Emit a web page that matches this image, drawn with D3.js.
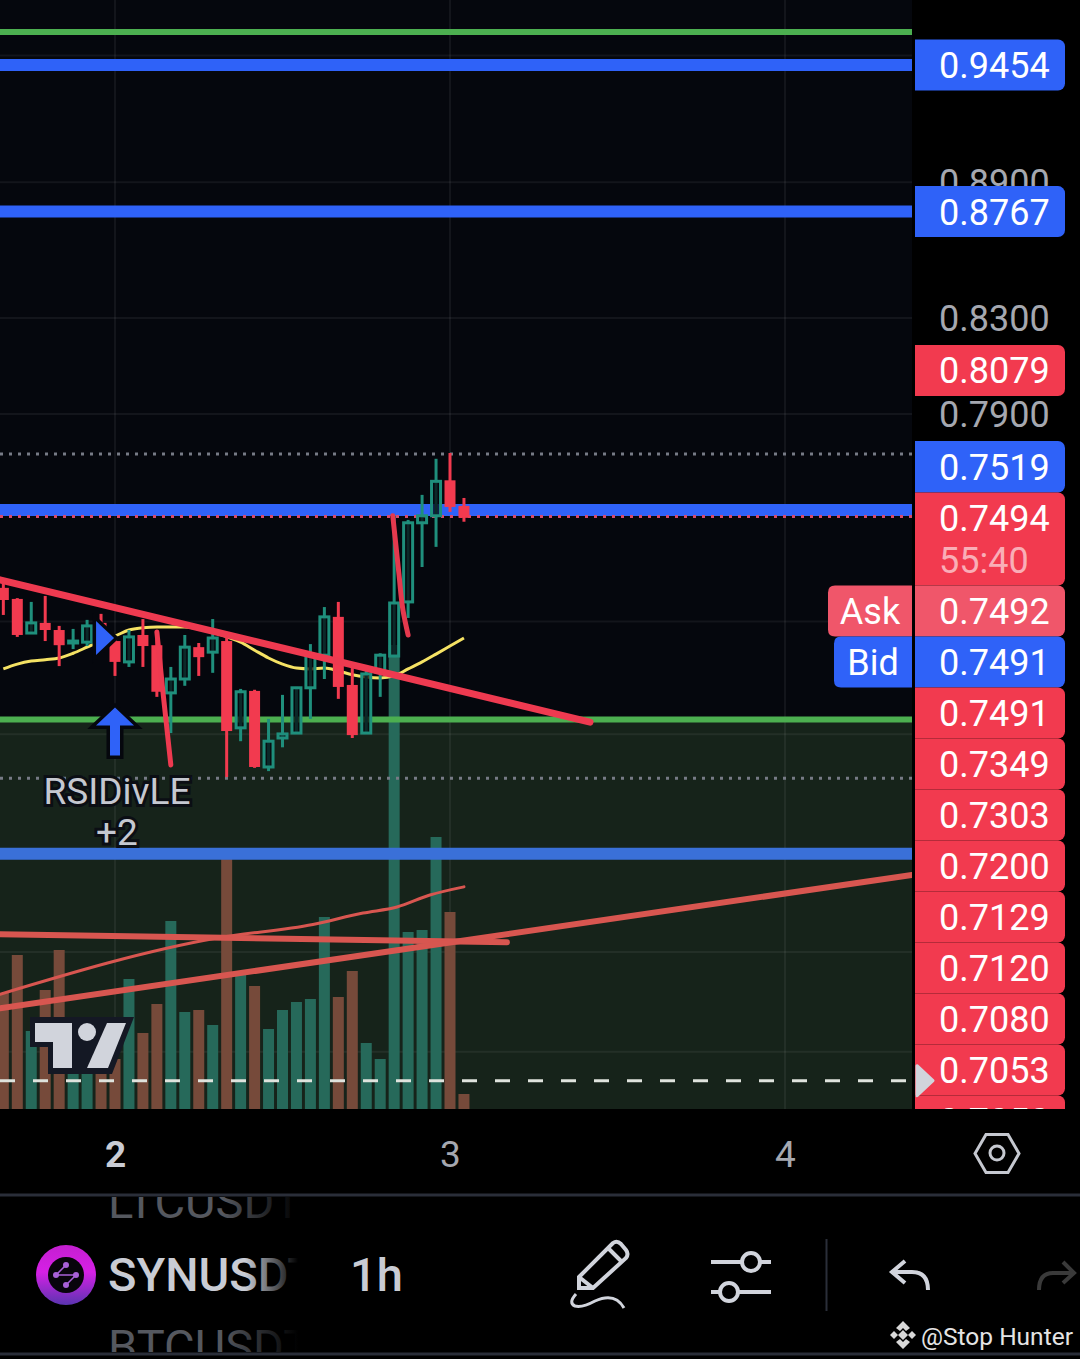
<!DOCTYPE html>
<html>
<head>
<meta charset="utf-8">
<script src="https://d3js.org/d3.v7.min.js"></script>
<style>
  html, body { margin: 0; padding: 0; background: #000; }
  svg { display: block; }
  text { font-family: Roboto, sans-serif; }
</style>
</head>
<body>
<div id="chart"></div>
<script>
// hourly bars, 0 = start of day 2
var bars = [-8,-7,-6,-5,-4,-3,-2,-1,0,1,2,3,4,5,6,7,8,9,10,11,12,13,14,15,16,17,18,19,20,21,22,23,24,25];
var opens = [.7224,.7183,.7058,.7095,.7069,.7022,.7025,.7095,.7029,.6954,.7051,.7014,.6844,.6893,.7007,.6989,.7029,.6722,.6851,.6588,.6687,.6704,.6862,.6978,.7117,.6872,.6704,.6918,.6975,.7172,.7470,.7497,.7635,.7535];
var highs = [.7243,.7186,.7172,.7194,.7084,.7073,.7106,.7128,.7044,.7069,.7109,.7062,.6936,.7051,.7022,.7109,.7047,.6858,.6855,.6753,.6837,.6865,.7018,.7153,.7172,.6932,.6925,.6985,.7497,.7481,.7578,.7720,.7743,.7566];
var lows = [.7124,.7044,.7055,.7029,.6939,.7000,.7011,.7033,.6904,.6936,.6936,.6830,.6704,.6869,.6904,.6915,.6554,.6676,.6585,.6574,.6655,.6701,.6753,.6893,.6823,.6687,.6701,.6830,.6971,.7113,.7302,.7378,.7512,.7474];
var closes = [.7179,.7051,.7095,.7069,.7014,.7029,.7084,.7055,.6954,.7044,.7011,.6848,.6893,.7007,.6971,.7040,.6711,.6848,.6588,.6676,.6701,.6862,.6978,.7117,.6865,.6697,.6911,.6978,.7168,.7470,.7497,.7631,.7531,.7489];
var volumes = [116,154,78,119,159,69,59,64,50,130,76,105,188,97,99,84,250,134,123,80,99,107,110,192,112,138,66,50,464,177,179,272,197,15];
var maValues = [.6929,.6946,.6957,.6962,.6968,.6985,.7007,.7029,.7047,.7069,.7077,.7080,.7080,.7080,.7073,.7062,.7044,.7025,.6996,.6968,.6946,.6932,.6929,.6932,.6922,.6908,.6900,.6897,.6904,.6929,.6954,.6982,.7011,.7040];

var gridPrices = [.95,.89,.83,.79,.75,.71,.67,.63,.599,.569];
var dayBars = [0,24,48];
var dayLabels = ["2","3","4"];
var greenLevels = [.9616,.6751];
var blueLevels = [.9454,.8767,.7519,.63];
var dottedLevels = [.7739,.6550];
var lastPrice = .7494;
var dashedLevel = .5606;

// drawn trend lines, [bar, price]
var trendMain = [[-8.24,.7254],[34.03,.6742]];
var trendFlat = [[-8.24,.6045],[28.08,.6020]];
var trendRise = [[-8.24,.5819],[57.09,.6232]];
var volumeAvg = [[-8.24,.5861],[7.31,.6033],[14.18,.6075],[17.77,.6111],[20.2,.6130],[22.56,.6168],[25,.6194]];
var strokeOne = [[3,.7062],[3.45,.6840],[4,.6595]];
var strokeTwo = [[19.9,.7497],[20.35,.7272],[20.63,.7142],[21,.7051]];

var axisTicks = [.89,.83,.79];
var freeTags = [["0.9454","blue"],["0.8767","blue"],["0.8079","red"]];
var stackTags = ["0.7491","0.7349","0.7303","0.7200","0.7129","0.7120","0.7080","0.7053","0.7050"];

var BLUE = "#2f62f8", RED = "#f23a4f", GREEN = "#4caf50", TEAL = "#1f8f7c";
var W = 1080, H = 1359, paneR = 912, paneB = 1109;

var svg = d3.select("#chart").append("svg").attr("width", W).attr("height", H).style("background", "#000");
var defs = svg.append("defs");

var x = d3.scaleLinear().domain([0, 24]).range([115, 450]);
var y = d3.scaleLog().domain([.83, .79]).range([318, 414]);
var yVol = d3.scaleLinear().domain([0, 500]).range([paneB, paneB - 500]);

defs.append("clipPath").attr("id", "pane").append("rect").attr("width", paneR).attr("height", paneB);
defs.append("clipPath").attr("id", "scaleArea").append("rect").attr("x", 915).attr("width", 165).attr("height", paneB);

// ---- pane background
var pane = svg.append("g").attr("clip-path", "url(#pane)");
pane.append("rect").attr("width", paneR).attr("height", paneB).attr("fill", "#05070d");
pane.append("rect").attr("y", y(greenLevels[1])).attr("width", paneR).attr("height", paneB - y(greenLevels[1])).attr("fill", "#16231a");

// grid
pane.selectAll(".hgrid").data(gridPrices).enter().append("line")
  .attr("x1", 0).attr("x2", paneR).attr("y1", d => y(d)).attr("y2", d => y(d))
  .attr("stroke", "#fff").attr("stroke-opacity", .06).attr("stroke-width", 2);
pane.selectAll(".vgrid").data(dayBars).enter().append("line")
  .attr("x1", d => x(d)).attr("x2", d => x(d)).attr("y1", 0).attr("y2", paneB)
  .attr("stroke", "#fff").attr("stroke-opacity", .06).attr("stroke-width", 2);

// volume
pane.selectAll(".vol").data(bars).enter().append("rect")
  .attr("x", d => x(d) - 5.5).attr("width", 11)
  .attr("y", (d, i) => yVol(volumes[i])).attr("height", (d, i) => paneB - yVol(volumes[i]))
  .attr("fill", (d, i) => closes[i] >= opens[i] ? "#26695a" : "#764a3a");

// dotted levels under the candles
function dotted(level, color) {
  pane.append("line").attr("x1", 0).attr("x2", paneR).attr("y1", y(level)).attr("y2", y(level))
    .attr("stroke", color).attr("stroke-width", 3).attr("stroke-dasharray", "3 6");
}
dottedLevels.forEach(d => dotted(d, "#777b86"));

// level lines
pane.selectAll(".green").data(greenLevels).enter().append("line")
  .attr("x1", 0).attr("x2", paneR).attr("y1", d => y(d)).attr("y2", d => y(d))
  .attr("stroke", GREEN).attr("stroke-width", 6);
pane.selectAll(".blue").data(blueLevels).enter().append("line")
  .attr("x1", 0).attr("x2", paneR).attr("y1", d => y(d)).attr("y2", d => y(d))
  .attr("stroke", d => d < greenLevels[1] ? "#3a70d8" : BLUE).attr("stroke-width", 12);
dotted(lastPrice, "#d84a6c");
pane.append("line").attr("x1", 0).attr("x2", paneR).attr("y1", y(dashedLevel)).attr("y2", y(dashedLevel))
  .attr("stroke", "#dfe3dd").attr("stroke-width", 3).attr("stroke-dasharray", "15 18");

// drawn lines in the lower part
var line = d3.line().x(d => x(d[0])).y(d => y(d[1]));
function drawn(points, width, color, curve) {
  pane.append("path").attr("d", line.curve(curve || d3.curveLinear)(points))
    .attr("fill", "none").attr("stroke", color).attr("stroke-width", width).attr("stroke-linecap", "round");
}
drawn(trendFlat, 6, "#d85650");
drawn(volumeAvg, 3, "#d85650", d3.curveMonotoneX);
drawn(trendRise, 6, "#d85650");

// tradingview mark
var mark = pane.append("g");
mark.append("path").attr("d", "M30 1017H134L112 1074H48V1047H30Z").attr("fill", "#141824");
mark.append("path").attr("d", "M35 1023H72V1068H53V1042H35Z").attr("fill", "#d1d4dc");
mark.append("circle").attr("cx", 87).attr("cy", 1032).attr("r", 9).attr("fill", "#d1d4dc");
mark.append("path").attr("d", "M107 1023H126L108 1068H87Z").attr("fill", "#d1d4dc");

// moving average + main trend line
pane.append("path").attr("d", d3.line().x((d, i) => x(bars[i])).y(d => y(d)).curve(d3.curveMonotoneX)(maValues))
  .attr("fill", "none").attr("stroke", "#f5e264").attr("stroke-width", 3);

// candles
var candle = pane.selectAll(".candle").data(bars).enter().append("g");
candle.append("line")
  .attr("x1", d => x(d)).attr("x2", d => x(d))
  .attr("y1", (d, i) => y(highs[i])).attr("y2", (d, i) => y(lows[i]))
  .attr("stroke", (d, i) => closes[i] >= opens[i] ? TEAL : RED).attr("stroke-width", 3);
candle.append("rect")
  .attr("x", (d, i) => x(d) - (closes[i] >= opens[i] ? 4.5 : 5.5))
  .attr("width", (d, i) => closes[i] >= opens[i] ? 9 : 11)
  .attr("y", (d, i) => y(Math.max(opens[i], closes[i])))
  .attr("height", (d, i) => Math.abs(y(opens[i]) - y(closes[i])))
  .attr("fill", (d, i) => closes[i] >= opens[i] ? "#05070d" : RED)
  .attr("fill-opacity", (d, i) => closes[i] >= opens[i] ? .75 : 1)
  .attr("stroke", (d, i) => closes[i] >= opens[i] ? TEAL : "none").attr("stroke-width", 3);

drawn(trendMain, 7, "#ee3a50");
drawn(strokeOne, 5, "#ee3a50", d3.curveMonotoneY);
drawn(strokeTwo, 5, "#e5394e", d3.curveMonotoneY);

// signal markers
var sigX = x(0), sigY = y(.6751);
pane.append("path").attr("transform", `translate(${sigX},${sigY})`)
  .attr("d", "M0 -12L19 6H5V36H-5V6H-19Z")
  .attr("fill", BLUE).attr("stroke", "#05070d").attr("stroke-width", 7).attr("paint-order", "stroke");
pane.append("path").attr("transform", `translate(${x(-1)},${y(.7040)})`)
  .attr("d", "M-5 -17L13 0L-5 17Z")
  .attr("fill", BLUE).attr("stroke", "#05070d").attr("stroke-width", 7).attr("paint-order", "stroke");
pane.selectAll(".sigText").data(["RSIDivLE", "+2"]).enter().append("text")
  .attr("x", sigX + 2).attr("y", (d, i) => 804 + i * 41)
  .attr("text-anchor", "middle").attr("font-size", 37).attr("fill", "#c5c8d0")
  .attr("stroke", "#0b0e14").attr("stroke-width", 6).attr("paint-order", "stroke")
  .text(d => d);

// ---- price scale
var axisG = svg.append("g").attr("transform", "translate(939,1)")
  .call(d3.axisRight(y).tickValues(axisTicks).tickSize(0).tickPadding(0).tickFormat(d3.format(".4f")));
axisG.select(".domain").remove();
axisG.selectAll("text").attr("font-size", 36).attr("fill", "#a5a8b0").attr("font-family", "Roboto, sans-serif");

var tagG = svg.append("g").attr("clip-path", "url(#scaleArea)");
function tag(top, bottom, color) {
  tagG.append("rect").attr("x", 900).attr("y", top).attr("width", 165).attr("height", bottom - top)
    .attr("rx", 7).attr("fill", color);
}
function tagText(g, label, cy, fill, size) {
  g.append("text").attr("x", 939).attr("y", cy).attr("dy", ".36em")
    .attr("font-size", size || 36).attr("fill", fill || "#fff").text(label);
}
var colorOf = { blue: BLUE, red: RED };
freeTags.forEach(function (t) {
  var cy = y(+t[0]);
  tag(cy - 25.5, cy + 25.5, colorOf[t[1]]);
  tagText(tagG, t[0], cy);
});

var lastCy = y(lastPrice) + 1.5;
tag(lastCy - 77, lastCy - 25.5, BLUE);
tagText(tagG, blueLevels[2].toFixed(4), lastCy - 51);
tag(lastCy - 25.5, lastCy + 67.5, RED);
tagText(tagG, lastPrice.toFixed(4), lastCy);
tagText(tagG, "55:40", lastCy + 42, "rgba(255,255,255,.6)");
tag(lastCy + 67.5, lastCy + 118.5, "#f0566a");
tagText(tagG, "0.7492", lastCy + 93);
tag(lastCy + 118.5, lastCy + 169.5, BLUE);
tagText(tagG, "0.7491", lastCy + 144);
stackTags.forEach(function (d, i) {
  var cy = lastCy + 195 + i * 51;
  tag(cy - 25.5, cy + 25.5, RED);
  tagText(tagG, d, cy);
});

// ask / bid tabs
[["Ask", 828, "#f0566a", lastCy + 93], ["Bid", 834, BLUE, lastCy + 144]].forEach(function (t) {
  svg.append("path")
    .attr("d", `M912 ${t[3] - 25.5}H${t[1] + 7}Q${t[1]} ${t[3] - 25.5} ${t[1]} ${t[3] - 18.5}V${t[3] + 18.5}Q${t[1]} ${t[3] + 25.5} ${t[1] + 7} ${t[3] + 25.5}H912Z`)
    .attr("fill", t[2]);
  svg.append("text").attr("x", (t[1] + 912) / 2).attr("y", t[3]).attr("dy", ".36em")
    .attr("text-anchor", "middle").attr("font-size", 36).attr("fill", "#fff").text(t[0]);
});

// last-price pointer
svg.append("path").attr("transform", `translate(915,${y(dashedLevel)})`)
  .attr("d", "M2 -15L18 0L2 15Z").attr("fill", "#d1d4dc")
  .attr("stroke", "#d1d4dc").attr("stroke-width", 3).attr("stroke-linejoin", "round");

// ---- time axis
var timeAxis = d3.axisBottom(x).tickValues(dayBars).tickSize(0).tickPadding(0)
  .tickFormat((d, i) => dayLabels[i]);
var timeG = svg.append("g").attr("transform", "translate(0,1141)").call(timeAxis);
timeG.select(".domain").remove();
timeG.selectAll("text").attr("font-size", 37).attr("fill", "#a5a8b0").attr("font-family", "Roboto, sans-serif");
timeG.selectAll("text").filter(d => d === 0).attr("font-weight", 700).attr("fill", "#c9ccd4");

// settings hexagon
var hexR = 22;
svg.append("path").attr("d", d3.range(6).map(function (i) {
  var a = i * Math.PI / 3;
  return (i ? "L" : "M") + (997 + hexR * Math.cos(a)) + " " + (1153.5 + hexR * Math.sin(a));
}).join("") + "Z").attr("fill", "none").attr("stroke", "#c5c8d0").attr("stroke-width", 3);
svg.append("circle").attr("cx", 997).attr("cy", 1153).attr("r", 7)
  .attr("fill", "none").attr("stroke", "#c5c8d0").attr("stroke-width", 3);

// ---- bottom toolbar
svg.selectAll(".sep").data([1195, 1354]).enter().append("line")
  .attr("x1", 0).attr("x2", W).attr("y1", d => d).attr("y2", d => d)
  .attr("stroke", "#2a2e39").attr("stroke-width", 3);

var fade = defs.append("linearGradient").attr("id", "fade").attr("gradientUnits", "userSpaceOnUse")
  .attr("x1", 108).attr("x2", 298).attr("y1", 0).attr("y2", 0);
fade.append("stop").attr("offset", "72%").attr("stop-color", "#c9ccd4");
fade.append("stop").attr("offset", "100%").attr("stop-color", "#000");
var fadeDim = defs.append("linearGradient").attr("id", "fadeDim").attr("gradientUnits", "userSpaceOnUse")
  .attr("x1", 108).attr("x2", 298).attr("y1", 0).attr("y2", 0);
fadeDim.append("stop").attr("offset", "60%").attr("stop-color", "#55585f");
fadeDim.append("stop").attr("offset", "100%").attr("stop-color", "#000");
defs.append("clipPath").attr("id", "listClip").append("rect").attr("x", 100).attr("y", 1197).attr("width", 198).attr("height", 155);

var list = svg.append("g").attr("clip-path", "url(#listClip)");
list.append("text").attr("x", 108).attr("y", 1218).attr("font-size", 47).attr("fill", "url(#fadeDim)").text("LTCUSDT");
list.append("text").attr("x", 108).attr("y", 1291).attr("font-size", 47).attr("font-weight", 500).attr("fill", "url(#fade)").text("SYNUSDT");
list.append("text").attr("x", 108).attr("y", 1363).attr("font-size", 47).attr("fill", "url(#fadeDim)").text("BTCUSDT");
svg.append("text").attr("x", 350).attr("y", 1291).attr("font-size", 47).attr("font-weight", 500).attr("fill", "#c9ccd4").text("1h");

// coin logo
var ring = defs.append("linearGradient").attr("id", "ring").attr("x1", 0).attr("y1", 0).attr("x2", 0).attr("y2", 1);
ring.append("stop").attr("offset", "0%").attr("stop-color", "#c41fd0");
ring.append("stop").attr("offset", "45%").attr("stop-color", "#d620e6");
ring.append("stop").attr("offset", "100%").attr("stop-color", "#5a34b0");
svg.append("circle").attr("cx", 66).attr("cy", 1275).attr("r", 30).attr("fill", "url(#ring)");
svg.append("circle").attr("cx", 66).attr("cy", 1275).attr("r", 18).attr("fill", "#08040c");
var net = [[56, 1275], [66, 1265], [66, 1285], [76, 1275]];
svg.append("path").attr("d", "M56 1275L66 1265M56 1275H76M76 1275L66 1285")
  .attr("stroke", "#a860d8").attr("stroke-width", 1.5).attr("fill", "none");
svg.selectAll(".node").data(net).enter().append("circle")
  .attr("cx", d => d[0]).attr("cy", d => d[1]).attr("r", 3).attr("fill", "#a860d8");

// toolbar icons
var icons = svg.append("g").attr("fill", "none").attr("stroke", "#d1d4dc").attr("stroke-width", 4);
icons.append("path").attr("d", "M579 1277L613 1243Q617 1240 621 1244L626 1250Q629 1254 626 1258L593 1288H579Z");
icons.append("path").attr("d", "M608 1248L621 1261M579 1277L593 1288");
icons.append("path").attr("d", "M576 1294Q568 1303 575 1306Q582 1308 595 1301Q615 1292 624 1308").attr("stroke-width", 3);
icons.append("path").attr("d", "M711 1262H771M711 1292H771");
[[751, 1262], [729, 1292]].forEach(function (c) {
  icons.append("circle").attr("cx", c[0]).attr("cy", c[1]).attr("r", 9).attr("fill", "#000");
});
svg.append("line").attr("x1", 826.5).attr("x2", 826.5).attr("y1", 1239).attr("y2", 1311).attr("stroke", "#2a2e39").attr("stroke-width", 2);
icons.append("path").attr("d", "M905 1261L892 1272L905 1283M892 1272H912Q928 1272 928 1290");
icons.append("path").attr("d", "M1063 1262L1074 1273L1063 1283M1074 1273H1053Q1039 1273 1039 1290").attr("stroke", "#3a3a3a");

// watermark
var wm = svg.append("g").attr("fill", "#d8d8d8");
wm.append("path").attr("d", "M903 1321L910 1328L906 1331L903 1328L900 1331L896 1328ZM890 1335L894 1331L898 1335L894 1339ZM908 1335L912 1331L916 1335L912 1339ZM903 1330L908 1335L903 1340L898 1335ZM896 1342L900 1339L903 1342L906 1339L910 1342L903 1349Z");
svg.append("text").attr("x", 921).attr("y", 1345).attr("font-family", "Liberation Sans, Arial, sans-serif")
  .attr("font-size", 24.5).attr("fill", "#e4e4e4").text("@Stop Hunter");
</script>
</body>
</html>
